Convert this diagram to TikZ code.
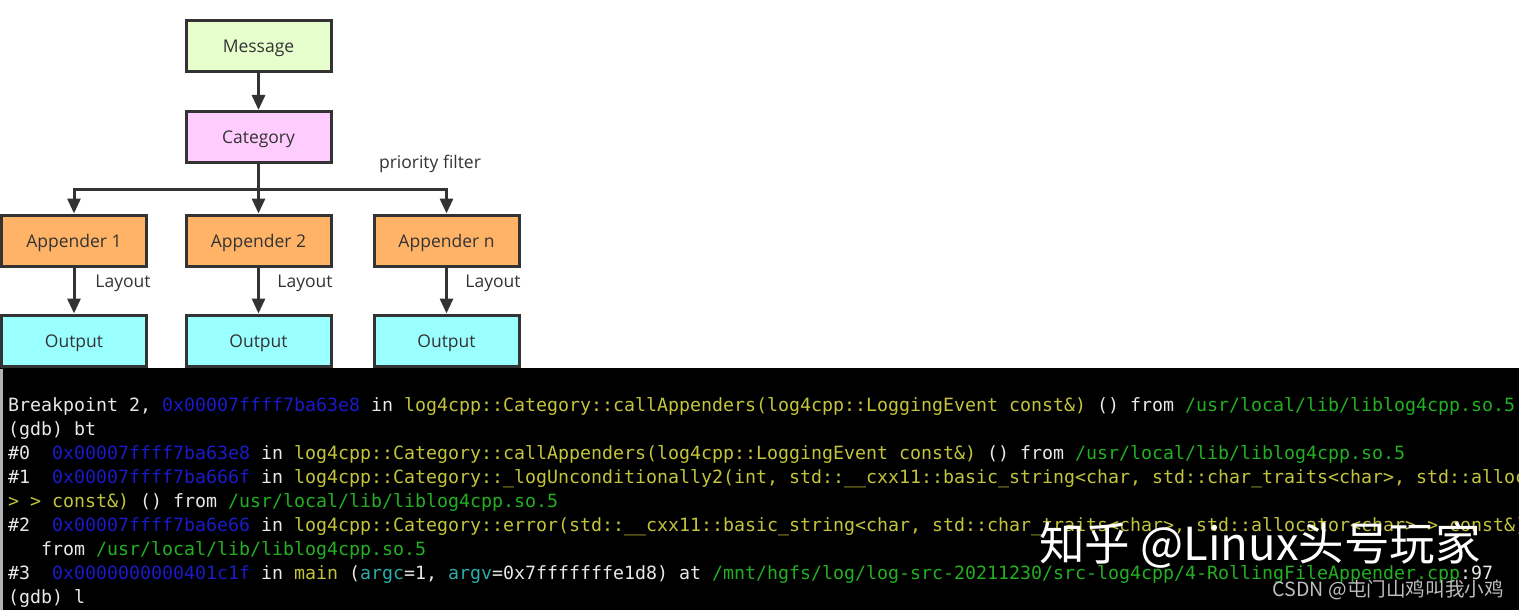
\documentclass[tikz,border=0pt]{standalone}
\usepackage{fontspec}
\setmainfont{Open Sans}
\newfontfamily\termfont{DejaVu Sans Mono}
\newfontfamily\cjkfont{Noto Sans CJK SC}
\usetikzlibrary{arrows.meta}
\definecolor{cMsg}{HTML}{E6FFCC}
\definecolor{cCat}{HTML}{FFCCFF}
\definecolor{cApp}{HTML}{FFB366}
\definecolor{cOut}{HTML}{99FFFF}
\definecolor{cEdge}{HTML}{333333}
\definecolor{tw}{HTML}{E8E8E8}
\definecolor{tb}{HTML}{1A1AC8}
\definecolor{ty}{HTML}{C4C43C}
\definecolor{tg}{HTML}{22B022}
\definecolor{tc}{HTML}{2AAAAA}
\definecolor{wm}{HTML}{BEBEBE}
\newcommand\clW[1]{\textcolor{tw}{#1}}
\newcommand\clB[1]{\textcolor{tb}{#1}}
\newcommand\clY[1]{\textcolor{ty}{#1}}
\newcommand\clG[1]{\textcolor{tg}{#1}}
\newcommand\clC[1]{\textcolor{tc}{#1}}
\tikzset{
  box/.style={draw=cEdge, line width=3pt, minimum width=145pt, minimum height=51pt,
    inner sep=0pt, text=cEdge, text height=13pt, text depth=0pt,
    font=\fontsize{17.5}{20}\selectfont},
  conn/.style={draw=cEdge, line width=3pt, -{Triangle[length=15pt,width=13pt]}},
  lbl/.style={text=cEdge, inner sep=0pt, text height=13pt, text depth=0pt,
    font=\fontsize{17.5}{20}\selectfont},
  termline/.style={anchor=base west, inner sep=0pt, font=\termfont\fontsize{18.27}{24}\selectfont\frenchspacing}
}
\begin{document}
\begin{tikzpicture}[x=1pt,y=-1pt]
\useasboundingbox (0,0) rectangle (1519,610);
\fill[white] (0,0) rectangle (1519,610);
% diagram
\node[box, fill=cMsg] (msg) at (258.5,46) {Message};
\node[box, fill=cCat] (cat) at (258.5,137) {Category};
\node[box, fill=cApp] (a1) at (74,240.5) {Appender 1};
\node[box, fill=cApp] (a2) at (258.5,240.5) {Appender 2};
\node[box, fill=cApp] (a3) at (446.5,240.5) {Appender n};
\node[box, fill=cOut] (o1) at (74,340.5) {Output};
\node[box, fill=cOut] (o2) at (258.5,340.5) {Output};
\node[box, fill=cOut] (o3) at (446.5,340.5) {Output};
\coordinate (br) at (258.5,189);
\draw[conn] (msg) -- (cat);
\draw[draw=cEdge, line width=3pt] (cat.south) -- (br);
\draw[conn] (br) -- (a2.north);
\draw[conn] (br) -| (a1.north);
\draw[conn] (br) -| (a3.north);
\draw[conn] (a1) -- (o1);
\draw[conn] (a2) -- (o2);
\draw[conn] (a3) -- (o3);
\node[lbl] (pf) at (430,162) {priority filter};
\node[lbl] (ly1) at (123,281) {Layout};
\node[lbl] (ly2) at (305,281) {Layout};
\node[lbl] (ly3) at (493,281) {Layout};
% terminal
\fill[black] (0,368) rectangle (1519,610);
\fill[gray!60] (0,369) rectangle (2.5,610);
\begin{scope}
\clip (0,368) rectangle (1519,610);
\node[termline] (l1) at (8,411) {\clW{Breakpoint 2,~}\clB{0x00007ffff7ba63e8}\clW{~in~}\clY{log4cpp::Category::callAppenders(log4cpp::LoggingEvent const\&)}\clW{~()~from~}\clG{/usr/local/lib/liblog4cpp.so.5}};
\node[termline] (l2) at (8,435) {\clW{(gdb)~bt}};
\node[termline] (l3) at (8,459) {\clW{\#0~~}\clB{0x00007ffff7ba63e8}\clW{~in~}\clY{log4cpp::Category::callAppenders(log4cpp::LoggingEvent const\&)}\clW{~()~from~}\clG{/usr/local/lib/liblog4cpp.so.5}};
\node[termline] (l4) at (8,483) {\clW{\#1~~}\clB{0x00007ffff7ba666f}\clW{~in~}\clY{log4cpp::Category::\_logUnconditionally2(int, std::\_\_cxx11::basic\_string<char, std::char\_traits<char>, std::allocator<char}};
\node[termline] (l5) at (8,507) {\clY{>~>~const\&)}\clW{~()~from~}\clG{/usr/local/lib/liblog4cpp.so.5}};
\node[termline] (l6) at (8,531) {\clW{\#2~~}\clB{0x00007ffff7ba6e66}\clW{~in~}\clY{log4cpp::Category::error(std::\_\_cxx11::basic\_string<char, std::char\_traits<char>, std::allocator<char> > const\&)}};
\node[termline] (l7) at (8,555) {\clW{~~~from~}\clG{/usr/local/lib/liblog4cpp.so.5}};
\node[termline] (l8) at (8,579) {\clW{\#3~~}\clB{0x0000000000401c1f}\clW{~in~}\clY{main}\clW{~(}\clC{argc}\clW{=1,~}\clC{argv}\clW{=0x7fffffffe1d8)~at~}\clG{/mnt/hgfs/log/log-src-20211230/src-log4cpp/4-RollingFileAppender.cpp}\clW{:97}};
\node[termline] (l9) at (8,603) {\clW{(gdb)~l}};
\end{scope}
% watermarks
\node[anchor=west, inner sep=0pt, text=white, font=\cjkfont\fontsize{45.5}{50}\selectfont] (wm1) at (1039,545) {知乎 @Linux头号玩家};
\node[anchor=east, inner sep=0pt, text=wm, font=\cjkfont\fontsize{19.6}{22}\selectfont] (wm2) at (1504,590) {CSDN @屯门山鸡叫我小鸡};
\end{tikzpicture}
\end{document}
